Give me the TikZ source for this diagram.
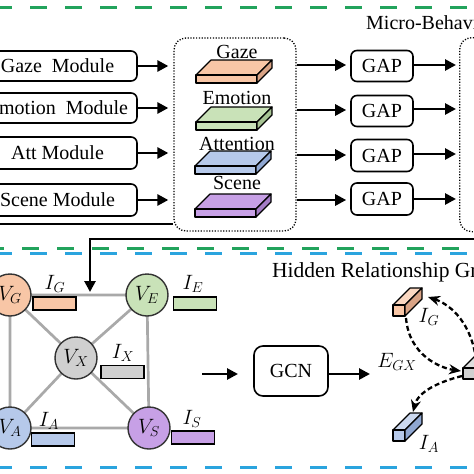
\documentclass[tikz,border=0pt]{standalone}
\usepackage{fontspec}
\setmainfont{Liberation Serif}
\usetikzlibrary{arrows.meta,calc}
\definecolor{cpeach}{HTML}{F8C6A6}
\definecolor{cpeachS}{HTML}{D9A385}
\definecolor{cgreen}{HTML}{C9E2B8}
\definecolor{cgreenS}{HTML}{A7C494}
\definecolor{cblue}{HTML}{B6C9EA}
\definecolor{cblueS}{HTML}{8FA7D2}
\definecolor{cpurp}{HTML}{C7A0E6}
\definecolor{cpurpS}{HTML}{A47CC6}
\definecolor{cgrey}{HTML}{D0D0D0}
\definecolor{cgreyS}{HTML}{A8A8A8}
\definecolor{sepgreen}{HTML}{22A35C}
\definecolor{sepblue}{HTML}{2AA4DE}
\definecolor{edgegrey}{HTML}{A9A9A9}
\newcommand\mbslab[4]{%
  \filldraw[fill=#3, line width=1.2pt, line join=round] (#1,#2) -- ++(15,-15) -- ++(61,0) -- ++(-15,15) -- cycle;
  \filldraw[fill=#3, line width=1.2pt, line join=round] (#1,#2) rectangle ++(61,8);
  \filldraw[fill=#4, line width=1.2pt, line join=round] (#1+61,#2) -- ++(15,-15) -- ++(0,8) -- ++(-15,15) -- cycle;}
\newcommand\mbcube[4]{%
  \filldraw[fill=#3!70!white, line width=1.2pt, line join=round] (#1,#2) -- ++(17,-17) -- ++(12,0) -- ++(-17,17) -- cycle;
  \filldraw[fill=#3, line width=1.2pt, line join=round] (#1,#2) rectangle ++(12,11);
  \filldraw[fill=#4, line width=1.2pt, line join=round] (#1+12,#2) -- ++(17,-17) -- ++(0,11) -- ++(-17,17) -- cycle;}
\begin{document}
\begin{tikzpicture}[x=1pt,y=-1pt,
  txt/.style={font=\fontsize{20}{24}\selectfont, inner sep=0pt},
  mtxt/.style={font=\fontsize{21.5}{26}\selectfont, inner sep=0pt},
  rbox/.style={draw, line width=1.6pt, rounded corners=6pt, inner sep=0pt, font=\fontsize{20}{24}\selectfont},
  modbox/.style={rbox, minimum width=159pt, minimum height=30pt},
  gapbox/.style={rbox, minimum width=62pt, minimum height=31pt},
  arr/.style={line width=2.7pt, -{Triangle[length=11pt,width=11pt]}},
  graphedge/.style={draw=edgegrey, line width=2.7pt},
  vnode/.style={circle, draw=black!80, line width=1.4pt, minimum size=42pt, inner sep=0pt, font=\fontsize{21.5}{26}\selectfont},
  bar/.style={draw, line width=1.3pt, minimum width=43pt, minimum height=13pt, inner sep=0pt},
  sep/.style={line width=3pt, dash pattern=on 17pt off 18pt},
  darr/.style={line width=2.3pt, dash pattern=on 5pt off 3pt, -{Stealth[length=12pt,width=10pt]}},
  dotbox/.style={draw, line width=1.3pt, dash pattern=on 1.2pt off 1.6pt, rounded corners=12pt}
]
\useasboundingbox (0,0) rectangle (474,474);
\clip (0,0) rectangle (474,474);
\fill[white] (0,0) rectangle (474,474);

% separators
\draw[sep, sepgreen] (-5,7) -- (480,7);
\draw[sep, sepgreen, dash phase=8pt] (-5,248) -- (480,248);
\draw[sep, sepblue] (-5,253) -- (480,253);
\draw[sep, sepblue] (-5,467) -- (480,467);

% top title
\node[txt, anchor=west] (ttop) at (366,23) {Micro-Behavior};

% module boxes
\node[modbox] (m1) at (57.5,66) {Gaze\ \ Module};
\node[modbox] (m2) at (57.5,108) {Emotion\ \ Module};
\node[modbox, minimum height=32pt] (m3) at (57.5,153) {Att Module};
\node[modbox, minimum height=32pt] (m4) at (57.5,200) {Scene Module};

% dotted feature box
\node[dotbox, minimum width=122pt, minimum height=193pt, inner sep=0pt] (fb) at (235,134.5) {};
\node[dotbox, minimum width=60pt, minimum height=194pt, inner sep=0pt, anchor=north west] (rb) at (459,37) {};

% slabs
\mbslab{196}{75}{cpeach}{cpeachS}
\mbslab{196}{122}{cgreen}{cgreenS}
\mbslab{195}{166}{cblue}{cblueS}
\mbslab{195}{209}{cpurp}{cpurpS}
\node[txt] (lg) at (237,52) {Gaze};
\node[txt] (le) at (237,98) {Emotion};
\node[txt] (la) at (237,144) {Attention};
\node[txt] (ls) at (237,183) {Scene};

% GAP boxes
\node[gapbox] (g1) at (382,66) {GAP};
\node[gapbox] (g2) at (382,111) {GAP};
\node[gapbox, minimum height=32pt] (g3) at (382,155.5) {GAP};
\node[gapbox, minimum height=32pt] (g4) at (382,199) {GAP};

% arrows modules -> feature box
\foreach \m/\y in {m1/66,m2/108,m3/153,m4/200}{
  \draw[arr, shorten >=5pt] (\m.east |- 0,\y) -- (fb.west |- 0,\y);
}
\foreach \g/\y in {g1/65,g2/110,g3/155,g4/200}{
  \draw[arr, shorten >=4pt] (fb.east |- 0,\y) -- (\g.west |- 0,\y);
}
\foreach \g/\y in {g1/65,g2/109,g3/154,g4/199}{
  \draw[arr, shorten >=3pt] (\g.east |- 0,\y) -- (rb.west |- 0,\y);
}

% black flow lines
\coordinate (lft) at (-5,224);
\draw[line width=2.7pt] (lft) -- (fb.west |- lft);
\coordinate (rgt) at (480,239);
\coordinate (dn) at (90,292);
\draw[arr] (rgt) -- (90,239) -- (dn);

% graph
\coordinate (cvg) at (10,295);
\coordinate (cve) at (147,295);
\coordinate (cvx) at (76,358);
\coordinate (cva) at (10,428);
\coordinate (cvs) at (149,428);
\draw[graphedge] (cvg) -- (cve) -- (cvs) -- (cva) -- cycle;
\draw[graphedge] (cvg) -- (cvx) -- (cvs);
\draw[graphedge] (cve) -- (cvx) -- (cva);
\node[vnode, fill=cpeach] (vg) at (cvg) {$V_G$};
\node[vnode, fill=cgreen] (ve) at (cve) {$V_E$};
\node[vnode, fill=cgrey] (vx) at (cvx) {$V_X$};
\node[vnode, fill=cblue] (va) at (cva) {$V_A$};
\node[vnode, fill=cpurp] (vs) at (cvs) {$V_S$};

\node[bar, fill=cpeach] (bg) at (54.5,303.5) {};
\node[bar, fill=cgreen] (be) at (195,303.5) {};
\node[bar, fill=cgrey] (bx) at (122.5,372) {};
\node[bar, fill=cblue] (ba) at (53,439.5) {};
\node[bar, fill=cpurp] (bs) at (193,437.5) {};
\node[mtxt] (tig) at (55,284) {$I_G$};
\node[mtxt] (tie) at (193,284) {$I_E$};
\node[mtxt] (tix) at (123,353) {$I_X$};
\node[mtxt] (tia) at (49,421) {$I_A$};
\node[mtxt] (tis) at (192,419) {$I_S$};

% GCN
\coordinate (a1) at (202,374);
\coordinate (a2) at (238,374);
\draw[arr] (a1) -- (a2);
\node[rbox, minimum width=74pt, minimum height=50pt, rounded corners=9pt] (gcn) at (291,371) {GCN};
\coordinate (a3) at (370,374);
\draw[arr] (gcn.east |- a3) -- (a3);

\node[txt, anchor=west, font=\fontsize{21.5}{26}\selectfont] (thid) at (272,272) {Hidden Relationship Graph};

% right cuboids
\mbcube{393}{305}{cpeach}{cpeachS}
\mbcube{393}{430}{cblue}{cblueS}
\mbcube{463}{368}{cgrey}{cgreyS}
\coordinate (cg) at (406,318);
\coordinate (cx) at (461,371);
\coordinate (cxl) at (462,376);
\coordinate (cxt) at (476,360);
\coordinate (cgt) at (428,297);
\coordinate (ca) at (413,412);
\draw[darr] (cg) .. controls (409,355) and (440,368) .. (cx);
\draw[darr] (cxt) .. controls (472,325) and (452,305) .. (cgt);
\draw[darr] (cxl) .. controls (438,382) and (418,392) .. (ca);
\node[mtxt] (tig2) at (429,317) {$I_G$};
\node[mtxt] (tia2) at (429,444) {$I_A$};
\node[mtxt] (egx) at (397,362) {$E_{GX}$};
\end{tikzpicture}
\end{document}
